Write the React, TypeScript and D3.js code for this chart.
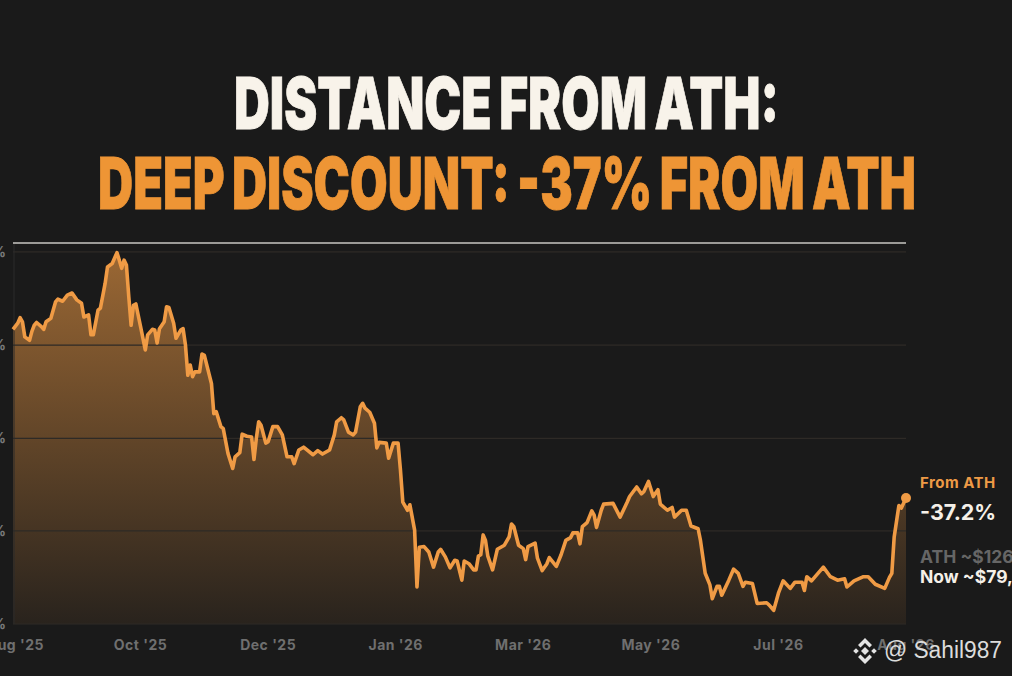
import React from 'react';
import * as d3 from 'd3';

const WIDTH = 1012;
const HEIGHT = 676;

// days since the first sample
const days = [
  0, 2, 3, 4, 5, 7, 8, 9, 10, 12, 13, 14, 16, 18, 19, 21, 23, 25, 27, 29, 30, 32, 33, 34, 36, 37, 39, 40, 42, 44,
  45, 46, 47, 48, 49, 50, 51, 52, 54, 56, 57, 59, 60, 61, 62, 64, 65, 66, 68, 69, 71, 72, 73, 74, 75, 76, 77, 79, 80, 81,
  84, 85, 86, 88, 89, 91, 93, 94, 96, 97, 99, 101, 102, 103, 104, 105, 107, 108, 110, 112, 114, 116, 118, 119, 121, 123, 127, 129, 131, 134,
  136, 137, 139, 140, 142, 144, 145, 147, 148, 149, 151, 153, 154, 155, 158, 159, 161, 163, 164, 165, 167, 168, 170, 171, 172, 174, 176, 178, 180, 181,
  183, 185, 187, 188, 190, 191, 193, 195, 196, 197, 198, 199, 200, 201, 203, 205, 208, 210, 211, 212, 214, 216, 217, 218, 221, 222, 224, 226, 227, 230,
  232, 234, 236, 237, 239, 240, 241, 243, 245, 246, 247, 249, 250, 254, 257, 260, 261, 264, 266, 267, 269, 271, 273, 274, 277, 279, 280, 283, 285, 287,
  290, 291, 293, 295, 296, 298, 299, 300, 303, 305, 307, 309, 310, 313, 315, 319, 320, 322, 324, 326, 329, 331, 334, 335, 336, 338, 340, 343, 346, 349,
  352, 353, 356, 360, 362, 365, 369, 371, 372, 373, 375, 376, 378,
];

// distance from the all time high, in percent
const fromAth = [
  -12.6, -11.7, -10.9, -11.5, -13.7, -14.2, -12.9, -12.0, -11.6, -12.2, -12.6, -11.5, -11.0, -8.6, -8.2, -8.5, -7.6, -7.3, -8.3, -8.8, -10.8, -10.5, -13.4, -13.4, -9.8, -9.5, -5.9, -3.5, -3.0, -1.4,
  -2.5, -3.7, -2.5, -3.2, -7.8, -12.0, -9.1, -8.9, -12.2, -15.6, -13.4, -12.6, -12.7, -14.6, -12.5, -11.5, -9.3, -9.4, -11.7, -13.9, -12.7, -12.5, -14.9, -19.3, -17.8, -19.5, -18.8, -18.8, -16.2, -16.4,
  -20.5, -24.9, -24.6, -26.8, -27.1, -30.7, -32.9, -31.2, -30.6, -27.9, -28.2, -28.3, -31.6, -28.5, -26.1, -26.6, -29.2, -29.0, -26.8, -26.8, -28.0, -31.2, -31.2, -32.2, -30.2, -29.8, -30.9, -30.3, -30.8, -30.2,
  -28.0, -26.1, -25.5, -25.8, -27.6, -28.0, -27.6, -23.9, -23.4, -24.1, -24.7, -26.3, -29.9, -29.1, -29.2, -31.4, -29.2, -29.2, -33.1, -37.8, -39.0, -38.2, -41.9, -50.2, -44.4, -44.3, -45.1, -47.3, -45.1, -44.7,
  -45.8, -47.4, -46.3, -46.4, -49.2, -46.4, -46.8, -47.7, -47.7, -45.7, -45.5, -42.6, -43.4, -45.7, -47.7, -44.7, -44.1, -42.9, -41.0, -41.4, -44.1, -44.6, -46.2, -44.3, -43.8, -46.0, -47.8, -46.8, -45.9, -47.2,
  -45.5, -43.4, -43.0, -42.3, -42.3, -43.9, -41.4, -40.8, -39.1, -39.7, -41.5, -39.0, -38.1, -38.0, -40.0, -37.8, -37.0, -35.6, -36.6, -36.3, -34.8, -37.0, -36.0, -38.1, -39.0, -38.6, -40.0, -39.0, -39.0, -41.3,
  -41.7, -43.4, -48.2, -49.9, -51.9, -50.1, -50.1, -51.4, -49.2, -47.6, -48.2, -50.1, -49.5, -49.7, -52.6, -52.5, -52.8, -53.6, -51.1, -49.3, -50.4, -49.5, -49.5, -50.7, -48.7, -49.3, -48.5, -47.3, -48.7, -49.2,
  -49.0, -50.2, -49.3, -48.7, -48.7, -49.8, -50.4, -48.8, -48.2, -42.9, -38.3, -38.7, -37.2,
];

const xTickDays = [1, 54, 108, 162, 216, 270, 324, 378];
const xTickLabels = ["Aug '25", "Oct '25", "Dec '25", "Jan '26", "Mar '26", "May '26", "Jul '26", "Aug '26"];
const yTicks = [-1.3, -14.9, -28.5, -42, -55.6];

const BG = '#1a1a1a';
const ORANGE = '#f09b45';
const SANS = 'Inter, "Noto Sans", sans-serif';

const x = d3.scaleLinear().domain([0, 378]).range([13, 906]);
const y = d3.scaleLinear().domain([0, -55.6]).range([243, 624]);

const points = days.map((d, i) => [d, fromAth[i]] as [number, number]);

const linePath = d3.line<[number, number]>()
  .x(d => x(d[0]))
  .y(d => y(d[1]))(points) as string;

const areaPath = d3.area<[number, number]>()
  .x(d => x(d[0]))
  .y0(y(-55.6))
  .y1(d => y(d[1]))(points) as string;

const App: React.FC = () => {
  const last = points[points.length - 1];
  return (
    <svg
      width={WIDTH}
      height={HEIGHT}
      viewBox={`0 0 ${WIDTH} ${HEIGHT}`}
      style={{ position: 'fixed', left: 0, top: 0, background: BG, fontFamily: SANS }}
    >
      <defs>
        <linearGradient id="area-fill" x1="0" y1="0" x2="0" y2="1" gradientUnits="objectBoundingBox">
          <stop offset="0" stopColor={ORANGE} stopOpacity={0.6} />
          <stop offset="1" stopColor={ORANGE} stopOpacity={0.07} />
        </linearGradient>
      </defs>

      <text x={506.5} y={129} textAnchor="middle" fontSize={71} fontWeight={900} fill="#f8f3ea"
        stroke="#f8f3ea" strokeWidth={0.8} wordSpacing={-3.5}
        textLength={545} lengthAdjust="spacingAndGlyphs">DISTANCE FROM ATH:</text>
      <text x={507} y={209} textAnchor="middle" fontSize={71} fontWeight={900} fill="#ee9535"
        stroke="#ee9535" strokeWidth={0.8} wordSpacing={-3.5}
        textLength={818} lengthAdjust="spacingAndGlyphs">DEEP DISCOUNT: -37% FROM ATH</text>

      <path d={areaPath} fill="url(#area-fill)" />

      {yTicks.map(t => (
        <g key={t}>
          <line x1={x(0)} x2={906} y1={y(t)} y2={y(t)} stroke="#2e2a26" strokeWidth={1.2} />
          <text x={6} y={y(t) + 5} textAnchor="end" fontSize={14} fontWeight={700} fill="#7a7a7a">
            {`${Math.round(t)}%`}
          </text>
        </g>
      ))}
      <line x1={14} x2={14} y1={243} y2={624} stroke="#2a2a2a" />
      <line x1={13} x2={906} y1={y(0)} y2={y(0)} stroke="#c9c7c3" strokeWidth={1.5} />

      <path d={linePath} fill="none" stroke={ORANGE} strokeWidth={3.6} strokeLinejoin="round" />
      <circle cx={x(last[0])} cy={y(last[1])} r={5} fill={ORANGE} />

      {xTickDays.map((d, i) => (
        <text key={d} x={x(d)} y={650} textAnchor="middle" fontSize={14} fontWeight={700} letterSpacing={0.5} fill="#6f6f6f">
          {xTickLabels[i]}
        </text>
      ))}

      <text x={920} y={488} fontSize={15} fontWeight={700} letterSpacing={0.5} fill="#ee9a46">From ATH</text>
      <text x={920} y={520} fontSize={21.5} fontWeight={700} fill="#f5f0e8">-37.2%</text>
      <text x={920} y={563} fontSize={17.5} fontWeight={700} fill="#666">ATH ~$126,000</text>
      <text x={920} y={583} fontSize={17.5} fontWeight={700} fill="#f5f0e8">Now ~$79,000</text>

      <g transform="translate(865,651)" fill="#e4e4e4">
        <path d="M0,-4 L4,0 L0,4 L-4,0 Z" />
        <path d="M0,-13 L7,-6 L4.5,-3.5 L0,-8 L-4.5,-3.5 L-7,-6 Z" />
        <path d="M0,13 L7,6 L4.5,3.5 L0,8 L-4.5,3.5 L-7,6 Z" />
        <path d="M-9,-2.8 L-6.2,0 L-9,2.8 L-11.8,0 Z" />
        <path d="M9,-2.8 L11.8,0 L9,2.8 L6.2,0 Z" />
      </g>
      <text x={884} y={658} fontSize={23} fontFamily='"Liberation Sans", sans-serif' fill="#dcdcdc"
        textLength={118} lengthAdjust="spacingAndGlyphs">@ Sahil987</text>
    </svg>
  );
};

export default App;
